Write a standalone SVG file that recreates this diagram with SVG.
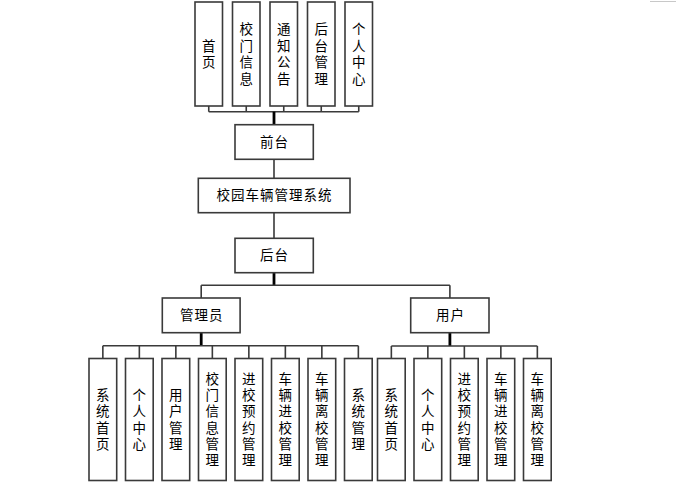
<svg xmlns="http://www.w3.org/2000/svg" width="696" height="490" viewBox="0 0 696 490">
<style>
  .box { fill: #fff; stroke: #3a3a3a; stroke-width: 1.6; }
  .t { font-family: "Liberation Sans", "Noto Sans CJK SC", sans-serif; font-size: 13.5px; fill: #000; text-anchor: middle; dominant-baseline: central; }
  .h { letter-spacing: 1px; }
  .ln { stroke: #3a3a3a; stroke-width: 1.6; fill: none; }
  .thick { stroke: #000; stroke-width: 2.8; fill: none; }
</style>
<rect width="696" height="490" fill="#fff"/>
<line x1="650" y1="1.5" x2="676" y2="1.5" stroke="#c8c8c8" stroke-width="1"/>

<g id="connectors">
  <path class="ln" d="M208.75,106 V111.7 M246.25,106 V111.7 M283.75,106 V111.7 M321.25,106 V111.7 M358.75,106 V111.7 M208.75,111.7 H358.75"/>
  <path class="thick" d="M274,111.7 V124.7"/>
  <path class="ln" d="M274,159.3 V178.3 M274,212.7 V238.3"/>
  <path class="thick" d="M274,272.7 V285.3"/>
  <path class="ln" d="M201.2,285.3 H449.9 M201.2,285.3 V298 M449.9,285.3 V298"/>
  <path class="thick" d="M201.2,332.7 V345.7"/>
  <path class="ln" d="M102.85,345.7 H358.35 M102.85,345.7 V358.5 M139.35,345.7 V358.5 M175.85,345.7 V358.5 M212.35,345.7 V358.5 M248.85,345.7 V358.5 M285.35,345.7 V358.5 M321.85,345.7 V358.5 M358.35,345.7 V358.5"/>
  <path class="thick" d="M449.9,332.7 V346"/>
  <path class="ln" d="M391.35,346 H537.35 M391.35,346 V358.5 M427.85,346 V358.5 M464.35,346 V358.5 M500.85,346 V358.5 M537.35,346 V358.5"/>
</g>

<g id="n-shouye">
  <rect class="box" x="195" y="2" width="27.5" height="104"/>
  <text class="t"><tspan x="208.75" y="45.75">首</tspan><tspan x="208.75" y="62.25">页</tspan></text>
</g>
<g id="n-xiaomenxinxi">
  <rect class="box" x="232.5" y="2" width="27.5" height="104"/>
  <text class="t"><tspan x="246.25" y="29.25">校</tspan><tspan x="246.25" y="45.75">门</tspan><tspan x="246.25" y="62.25">信</tspan><tspan x="246.25" y="78.75">息</tspan></text>
</g>
<g id="n-tongzhigonggao">
  <rect class="box" x="270" y="2" width="27.5" height="104"/>
  <text class="t"><tspan x="283.75" y="29.25">通</tspan><tspan x="283.75" y="45.75">知</tspan><tspan x="283.75" y="62.25">公</tspan><tspan x="283.75" y="78.75">告</tspan></text>
</g>
<g id="n-houtaiguanli">
  <rect class="box" x="307.5" y="2" width="27.5" height="104"/>
  <text class="t"><tspan x="321.25" y="29.25">后</tspan><tspan x="321.25" y="45.75">台</tspan><tspan x="321.25" y="62.25">管</tspan><tspan x="321.25" y="78.75">理</tspan></text>
</g>
<g id="n-gerenzhongxin-top">
  <rect class="box" x="345" y="2" width="27.5" height="104"/>
  <text class="t"><tspan x="358.75" y="29.25">个</tspan><tspan x="358.75" y="45.75">人</tspan><tspan x="358.75" y="62.25">中</tspan><tspan x="358.75" y="78.75">心</tspan></text>
</g>

<g id="n-qiantai">
  <rect class="box" x="235" y="124.7" width="78.3" height="34.6"/>
  <text class="t h" x="274.6" y="142">前台</text>
</g>
<g id="n-system">
  <rect class="box" x="198.3" y="178.3" width="151.7" height="34.4"/>
  <text class="t h" x="274.6" y="195.5">校园车辆管理系统</text>
</g>
<g id="n-houtai">
  <rect class="box" x="235" y="238.3" width="78.3" height="34.4"/>
  <text class="t h" x="274.6" y="255.5">后台</text>
</g>
<g id="n-admin">
  <rect class="box" x="162.3" y="298" width="77.8" height="34.7"/>
  <text class="t h" x="201.7" y="315.3">管理员</text>
</g>
<g id="n-user">
  <rect class="box" x="410.7" y="298" width="78.3" height="34.7"/>
  <text class="t h" x="450.4" y="315.3">用户</text>
</g>

<g id="a-xitongshouye">
  <rect class="box" x="89" y="358.5" width="27.7" height="122"/>
  <text class="t"><tspan x="102.85" y="395.2">系</tspan><tspan x="102.85" y="411.4">统</tspan><tspan x="102.85" y="427.6">首</tspan><tspan x="102.85" y="443.8">页</tspan></text>
</g>
<g id="a-gerenzhongxin">
  <rect class="box" x="125.5" y="358.5" width="27.7" height="122"/>
  <text class="t"><tspan x="139.35" y="395.2">个</tspan><tspan x="139.35" y="411.4">人</tspan><tspan x="139.35" y="427.6">中</tspan><tspan x="139.35" y="443.8">心</tspan></text>
</g>
<g id="a-yonghuguanli">
  <rect class="box" x="162" y="358.5" width="27.7" height="122"/>
  <text class="t"><tspan x="175.85" y="395.2">用</tspan><tspan x="175.85" y="411.4">户</tspan><tspan x="175.85" y="427.6">管</tspan><tspan x="175.85" y="443.8">理</tspan></text>
</g>
<g id="a-xiaomenxinxiguanli">
  <rect class="box" x="198.5" y="358.5" width="27.7" height="122"/>
  <text class="t"><tspan x="212.35" y="379">校</tspan><tspan x="212.35" y="395.2">门</tspan><tspan x="212.35" y="411.4">信</tspan><tspan x="212.35" y="427.6">息</tspan><tspan x="212.35" y="443.8">管</tspan><tspan x="212.35" y="460">理</tspan></text>
</g>
<g id="a-jinxiaoyuyue">
  <rect class="box" x="235" y="358.5" width="27.7" height="122"/>
  <text class="t"><tspan x="248.85" y="379">进</tspan><tspan x="248.85" y="395.2">校</tspan><tspan x="248.85" y="411.4">预</tspan><tspan x="248.85" y="427.6">约</tspan><tspan x="248.85" y="443.8">管</tspan><tspan x="248.85" y="460">理</tspan></text>
</g>
<g id="a-cheliangjinxiao">
  <rect class="box" x="271.5" y="358.5" width="27.7" height="122"/>
  <text class="t"><tspan x="285.35" y="379">车</tspan><tspan x="285.35" y="395.2">辆</tspan><tspan x="285.35" y="411.4">进</tspan><tspan x="285.35" y="427.6">校</tspan><tspan x="285.35" y="443.8">管</tspan><tspan x="285.35" y="460">理</tspan></text>
</g>
<g id="a-chelianglixiao">
  <rect class="box" x="308" y="358.5" width="27.7" height="122"/>
  <text class="t"><tspan x="321.85" y="379">车</tspan><tspan x="321.85" y="395.2">辆</tspan><tspan x="321.85" y="411.4">离</tspan><tspan x="321.85" y="427.6">校</tspan><tspan x="321.85" y="443.8">管</tspan><tspan x="321.85" y="460">理</tspan></text>
</g>
<g id="a-xitongguanli">
  <rect class="box" x="344.5" y="358.5" width="27.7" height="122"/>
  <text class="t"><tspan x="358.35" y="395.2">系</tspan><tspan x="358.35" y="411.4">统</tspan><tspan x="358.35" y="427.6">管</tspan><tspan x="358.35" y="443.8">理</tspan></text>
</g>

<g id="u-xitongshouye">
  <rect class="box" x="377.5" y="358.5" width="27.7" height="122"/>
  <text class="t"><tspan x="391.35" y="395.2">系</tspan><tspan x="391.35" y="411.4">统</tspan><tspan x="391.35" y="427.6">首</tspan><tspan x="391.35" y="443.8">页</tspan></text>
</g>
<g id="u-gerenzhongxin">
  <rect class="box" x="414" y="358.5" width="27.7" height="122"/>
  <text class="t"><tspan x="427.85" y="395.2">个</tspan><tspan x="427.85" y="411.4">人</tspan><tspan x="427.85" y="427.6">中</tspan><tspan x="427.85" y="443.8">心</tspan></text>
</g>
<g id="u-jinxiaoyuyue">
  <rect class="box" x="450.5" y="358.5" width="27.7" height="122"/>
  <text class="t"><tspan x="464.35" y="379">进</tspan><tspan x="464.35" y="395.2">校</tspan><tspan x="464.35" y="411.4">预</tspan><tspan x="464.35" y="427.6">约</tspan><tspan x="464.35" y="443.8">管</tspan><tspan x="464.35" y="460">理</tspan></text>
</g>
<g id="u-cheliangjinxiao">
  <rect class="box" x="487" y="358.5" width="27.7" height="122"/>
  <text class="t"><tspan x="500.85" y="379">车</tspan><tspan x="500.85" y="395.2">辆</tspan><tspan x="500.85" y="411.4">进</tspan><tspan x="500.85" y="427.6">校</tspan><tspan x="500.85" y="443.8">管</tspan><tspan x="500.85" y="460">理</tspan></text>
</g>
<g id="u-chelianglixiao">
  <rect class="box" x="523.5" y="358.5" width="27.7" height="122"/>
  <text class="t"><tspan x="537.35" y="379">车</tspan><tspan x="537.35" y="395.2">辆</tspan><tspan x="537.35" y="411.4">离</tspan><tspan x="537.35" y="427.6">校</tspan><tspan x="537.35" y="443.8">管</tspan><tspan x="537.35" y="460">理</tspan></text>
</g>
</svg>
